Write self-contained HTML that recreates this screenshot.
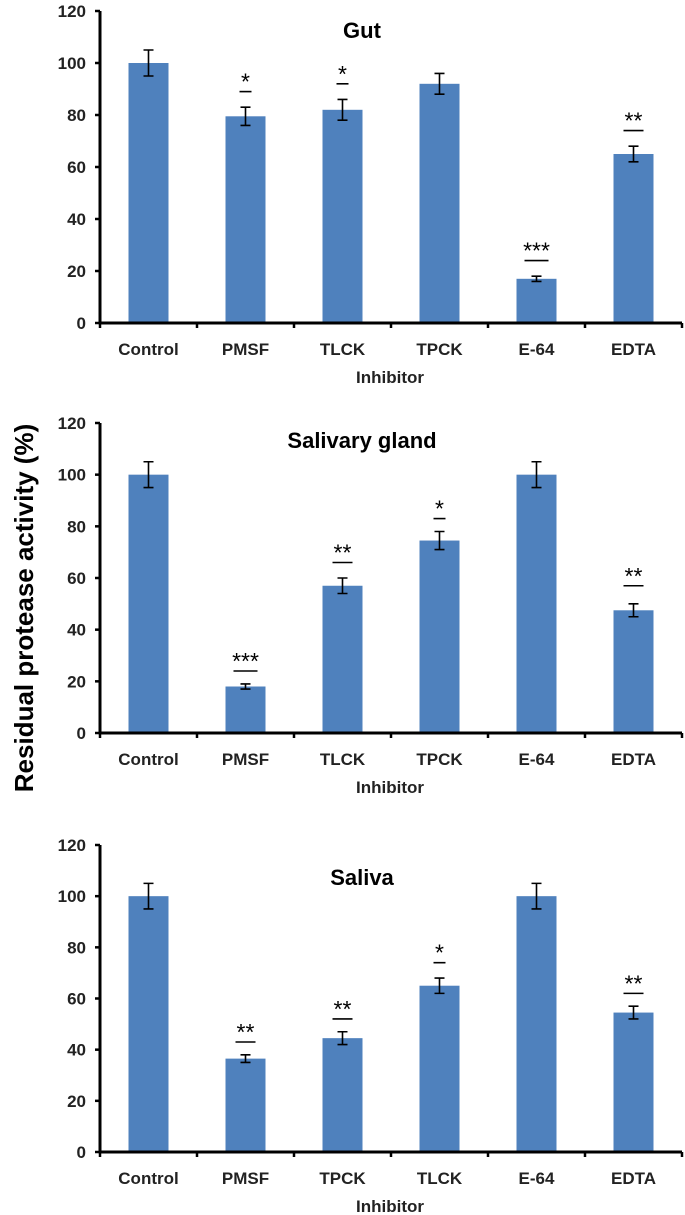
<!DOCTYPE html>
<html><head><meta charset="utf-8">
<style>
html,body{margin:0;padding:0;background:#fff;}
svg{display:block;font-family:"Liberation Sans",Arial,sans-serif;font-weight:bold;}
</style></head>
<body>
<svg id="fig" width="685" height="1215" viewBox="0 0 685 1215" xmlns="http://www.w3.org/2000/svg">
<text transform="translate(33,608) rotate(-90)" text-anchor="middle" font-size="26" fill="#000">Residual protease activity (%)</text>
</svg>
<script>
const gutCats = ["Control","PMSF","TLCK","TPCK","E-64","EDTA"];
const gutVals = [100,79.5,82,92,17,65];
const gutErr = [5,3.5,4,4,1,3];
const gutStars = ["","*","*","","***","**"];
const gutStarLine = [0,89,92,0,24,74];

const sgCats = ["Control","PMSF","TLCK","TPCK","E-64","EDTA"];
const sgVals = [100,18,57,74.5,100,47.5];
const sgErr = [5,1,3,3.5,5,2.5];
const sgStars = ["","***","**","*","","**"];
const sgStarLine = [0,24,66,83,0,57];

const salCats = ["Control","PMSF","TPCK","TLCK","E-64","EDTA"];
const salVals = [100,36.5,44.5,65,100,54.5];
const salErr = [5,1.5,2.5,3,5,2.5];
const salStars = ["","**","**","*","","**"];
const salStarLine = [0,43,52,74,0,62];

const yTicks = [0,20,40,60,80,100,120];

const NS = "http://www.w3.org/2000/svg";
const svg = document.getElementById('fig');
function mk(tag, attrs, parent){
  const e = document.createElementNS(NS, tag);
  for (const k in attrs) e.setAttribute(k, attrs[k]);
  (parent||svg).appendChild(e);
  return e;
}

function panel(key, title, cats, vals, errs, stars, starLine, base, top, titleY){
  const g = mk('g', {});
  
  
  const x0 = 100, x1 = 682;
  const bw = (x1 - x0) / cats.length;
  const y = v => base - (base - top) * v / 120;
  const xc = i => x0 + bw * (i + 0.5);
  vals.forEach((v, i) => {
    const r = mk('rect', {x: xc(i) - 20, y: y(v), width: 40, height: base - y(v), fill: '#4f81bd'}, g);
    
    
    const e = errs[i];
    const eb = mk('path', {d: `M${xc(i)},${y(v+e)}V${y(v-e)}M${xc(i)-5},${y(v+e)}H${xc(i)+5}M${xc(i)-5},${y(v-e)}H${xc(i)+5}`, stroke: '#000', 'stroke-width': 1.6, fill: 'none'}, g);
    
    
    if (stars[i]) {
      const sy = y(starLine[i]);
      const hw = stars[i].length > 2 ? 12 : stars[i].length > 1 ? 10 : 6;
      const ln = mk('line', {x1: xc(i) - hw, x2: xc(i) + hw, y1: sy, y2: sy, stroke: '#000', 'stroke-width': 1.6}, g);
      
      
      const t = mk('text', {x: xc(i), y: sy - 2, 'text-anchor': 'middle', 'font-size': 23, 'font-weight': 'normal', fill: '#000'}, g);
      t.textContent = stars[i];
      
      
    }
    const lab = mk('text', {x: xc(i), y: base + 32, 'text-anchor': 'middle', 'font-size': 17, fill: '#222'}, g);
    lab.textContent = cats[i];
    
    
  });
  const ax = mk('path', {d: `M${x0},${top}V${base}H${x1}`, stroke: '#000', 'stroke-width': 3, fill: 'none'}, g);
  
  
  for (let i = 0; i <= cats.length; i++) {
    const tx = x0 + bw * i;
    const tk = mk('line', {x1: tx, x2: tx, y1: base, y2: base + 5, stroke: '#000', 'stroke-width': 2.5}, g);
    
    
  }
  yTicks.forEach(v => {
    const tk = mk('line', {x1: x0 - 5, x2: x0, y1: y(v), y2: y(v), stroke: '#000', 'stroke-width': 2.5}, g);
    
    
    const t = mk('text', {x: x0 - 14, y: y(v) + 6, 'text-anchor': 'end', 'font-size': 17, fill: '#222'}, g);
    t.textContent = v;
    
    
  });
  const tt = mk('text', {x: 362, y: titleY, 'text-anchor': 'middle', 'font-size': 22, fill: '#000'}, g);
  tt.textContent = title;
  
  
  const xt = mk('text', {x: 390, y: base + 60, 'text-anchor': 'middle', 'font-size': 17, fill: '#222'}, g);
  xt.textContent = 'Inhibitor';
  
  
}

panel('gut', 'Gut', gutCats, gutVals, gutErr, gutStars, gutStarLine, 323, 11, 38);
panel('salivary-gland', 'Salivary gland', sgCats, sgVals, sgErr, sgStars, sgStarLine, 733, 423, 448);
panel('saliva', 'Saliva', salCats, salVals, salErr, salStars, salStarLine, 1152, 845, 885);
</script>
</body></html>
